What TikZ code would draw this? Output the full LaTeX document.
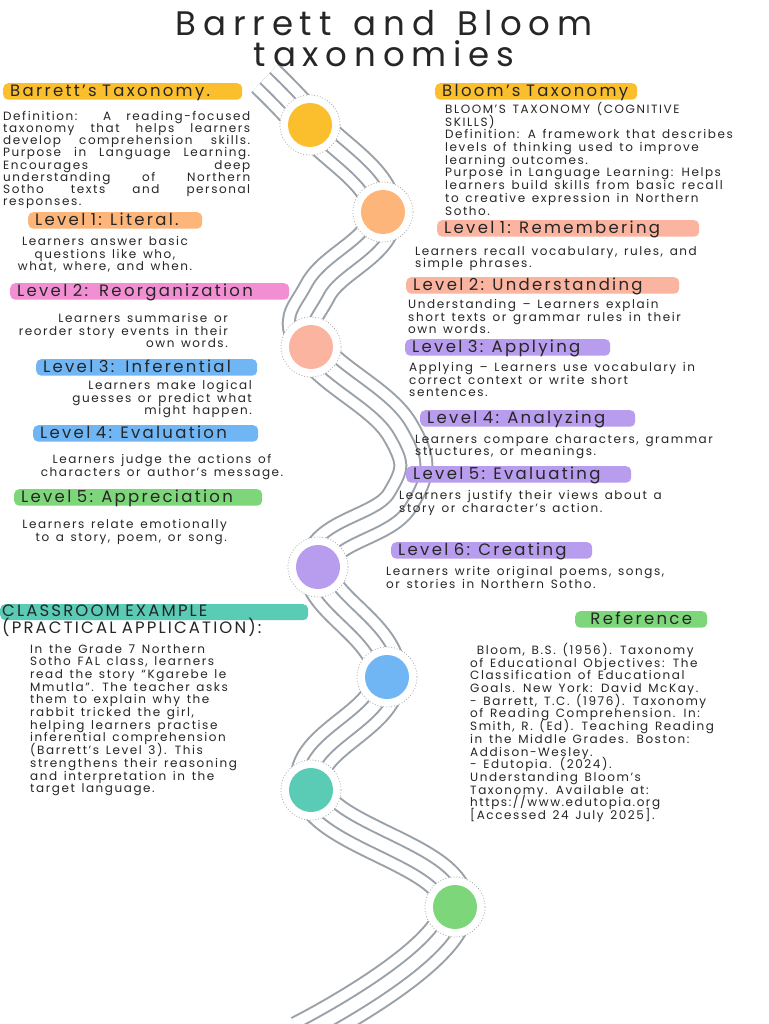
\documentclass[tikz,border=0pt]{standalone}
\usepackage{fontspec}
\setmainfont{Poppins}[LetterSpace=13,WordSpace=1.4]
\newcommand\tightls{\setlength{\lineskiplimit}{-20pt}\setlength{\lineskip}{0pt}}
\begin{document}
\begin{tikzpicture}[x=1pt,y=-1pt,
 pill/.style={rounded corners=5pt,inner xsep=7pt,inner ysep=1.5pt,anchor=north west,font=\fontsize{16.5}{17}\selectfont\addfontfeatures{LetterSpace=14},text=black!85,text depth=2pt,text height=11.5pt},
 pw/.style={text width=#1-12pt,align=left},
 body/.style={font=\fontsize{12}{12.7}\selectfont\tightls,text=black!85,inner sep=0pt,anchor=north west},
 ttl/.style={font=\fontsize{34}{31}\selectfont\addfontfeatures{LetterSpace=20},text=black!85,anchor=base},
 dot/.style={circle,minimum size=44pt,inner sep=0pt},
 ring/.style={circle,minimum size=60pt,draw=gray!70,dotted,thick,fill=white,inner sep=0pt}]
\definecolor{cy}{HTML}{FBBF2E}\definecolor{co}{HTML}{FDB57A}\definecolor{cs}{HTML}{FBB4A0}
\definecolor{cp}{HTML}{F28FD3}\definecolor{cb}{HTML}{70B6F4}\definecolor{cg}{HTML}{7ED67A}
\definecolor{cv}{HTML}{B89CEE}\definecolor{ct}{HTML}{5ACBB5}\definecolor{rd}{HTML}{9AA1A8}
\useasboundingbox (0,0) rectangle (768,1024);
\fill[white] (0,0) rectangle (768,1024);
% road
\def\road{plot[smooth,tension=0.75] coordinates{(265,78)(310,125)(383,212)(318,290)(311,347)(400,430)(400,500)(318,567)(387,677)(311,790)(455,907)(300,1035)}}
\draw[rd,line width=40pt] \road;
\draw[white,line width=36pt] \road;
\draw[rd,line width=16pt] \road;
\draw[white,line width=12pt] \road;
% circles
\foreach \n/\x/\y/\c in {y/310/125/cy,o/383/212/co,s/311/347/cs,v/318/567/cv,b/387/677/cb,t/311/790/ct,g/455/907/cg}{
 \node[ring] (r\n) at (\x,\y) {};
 \node[dot,fill=\c] (c\n) at (\x,\y) {};}
% title
\node[ttl] (title1) at (384,36) {Barrett and Bloom};
\node[ttl] (title2) at (384,67) {taxonomies};
% left
\node[pill,fill=cy,pw=237pt] (bt) at (3,83) {Barrett’s Taxonomy.};
\node[body,align=left,font=\fontsize{12}{12.2}\selectfont\tightls] (bd) at (3,111) {\makebox[247pt][s]{Definition: A reading-focused}\\\makebox[247pt][s]{taxonomy that helps learners}\\\makebox[247pt][s]{develop comprehension skills.}\\\makebox[247pt][s]{Purpose in Language Learning.}\\\makebox[247pt][s]{Encourages deep}\\\makebox[247pt][s]{understanding of Northern}\\\makebox[247pt][s]{Sotho texts and personal}\\responses.};
\node[pill,fill=co,pw=172pt] (l1) at (28,212) {Level 1: Literal.};
\node[body,align=center,anchor=north] (l1t) at (105,236) {Learners answer basic\\questions like who,\\what, where, and when.};
\node[pill,fill=cp,pw=277pt] (l2) at (10,283) {Level 2:\ \ Reorganization};
\node[body,align=right,anchor=north east] (l2t) at (228,313) {Learners summarise or\\reorder story events in their\\own words.};
\node[pill,fill=cb,pw=219pt] (l3) at (36,359) {Level 3:\ \ Inferential};
\node[body,align=right,anchor=north east] (l3t) at (252,380) {Learners make logical\\guesses or predict what\\might happen.};
\node[pill,fill=cb,pw=223pt] (l4) at (33,425) {Level 4: Evaluation};
\node[body,align=center,anchor=north] (l4t) at (162,454) {Learners judge the actions of\\characters or author’s message.};
\node[pill,fill=cg,pw=246pt] (l5) at (14,489) {Level 5: Appreciation};
\node[body,align=right,anchor=north east] (l5t) at (227,519) {Learners relate emotionally\\to a story, poem, or song.};
\node[pill,fill=ct,inner xsep=2pt,align=left,text width=304pt,font=\fontsize{16.5}{16.5}\selectfont\addfontfeatures{LetterSpace=13}\tightls,text height=11pt] (ce) at (0,604) {CLASSROOM EXAMPLE\\(PRACTICAL APPLICATION):};
\node[body,align=left] (cet) at (30,644) {In the Grade 7 Northern\\Sotho FAL class, learners\\read the story “Kgarebe le\\Mmutla”. The teacher asks\\them to explain why the\\rabbit tricked the girl,\\helping learners practise\\inferential comprehension\\(Barrett’s Level 3). This\\strengthens their reasoning\\and interpretation in the\\target language.};
% right
\node[pill,fill=cy,pw=200pt] (blt) at (435,83) {Bloom’s Taxonomy};
\node[body,align=left] (bld) at (445,102) {BLOOM’S TAXONOMY (COGNITIVE\\SKILLS)\\Definition: A framework that describes\\levels of thinking used to improve\\learning outcomes.\\Purpose in Language Learning: Helps\\learners build skills from basic recall\\to creative expression in Northern\\Sotho.};
\node[pill,fill=cs,pw=260pt] (b1) at (437,220) {Level 1: Remembering};
\node[body,align=left] (b1t) at (415,246) {Learners recall vocabulary, rules, and\\simple phrases.};
\node[pill,fill=cs,pw=271pt] (b2) at (406,277) {Level 2: Understanding};
\node[body,align=left] (b2t) at (408,299) {Understanding – Learners explain\\short texts or grammar rules in their\\own words.};
\node[pill,fill=cv,pw=203pt] (b3) at (405,339) {Level 3: Applying};
\node[body,align=left] (b3t) at (409,362) {Applying – Learners use vocabulary in\\correct context or write short\\sentences.};
\node[pill,fill=cv,pw=213pt] (b4) at (420,410) {Level 4: Analyzing};
\node[body,align=left] (b4t) at (415,434) {Learners compare characters, grammar\\structures, or meanings.};
\node[pill,fill=cv,pw=223pt] (b5) at (406,466) {Level 5: Evaluating};
\node[body,align=left] (b5t) at (399,490) {Learners justify their views about a\\story or character’s action.};
\node[pill,fill=cv,pw=199pt] (b6) at (391,542) {Level 6: Creating};
\node[body,align=left] (b6t) at (386,566) {Learners write original poems, songs,\\or stories in Northern Sotho.};
\node[pill,fill=cg,text width=118pt,align=center] (ref) at (575,611) {Reference};
\node[body,align=left] (reft) at (470,643) {\ Bloom, B.S. (1956). Taxonomy\\of Educational Objectives: The\\Classification of Educational\\Goals. New York: David McKay.\\- Barrett, T.C. (1976). Taxonomy\\of Reading Comprehension. In:\\Smith, R. (Ed). Teaching Reading\\in the Middle Grades. Boston:\\Addison-Wesley.\\- Edutopia. (2024).\\Understanding Bloom’s\\Taxonomy. Available at:\\https://www.edutopia.org\\{[Accessed 24 July 2025]}.};
\end{tikzpicture}
\end{document}
